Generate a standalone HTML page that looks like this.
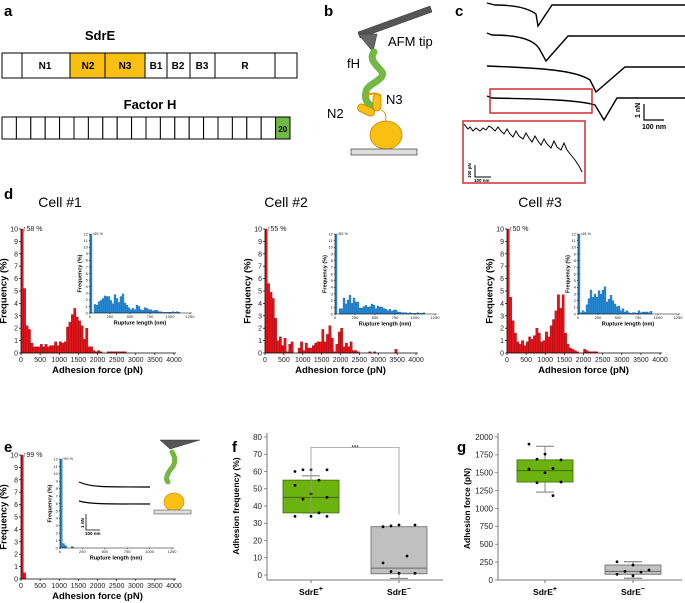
<!DOCTYPE html>
<html><head><meta charset="utf-8"><style>
html,body{margin:0;padding:0;background:#fff;}
svg{display:block;font-family:"Liberation Sans",Arial,sans-serif;}
</style></head><body>
<svg id="fig" width="685" height="603" viewBox="0 0 685 603" xmlns="http://www.w3.org/2000/svg">
<!-- panel a -->
<g>
<text x="4" y="16" font-size="15" font-weight="bold">a</text>
<text x="100" y="40" font-size="13" font-weight="bold" text-anchor="middle">SdrE</text>
<g stroke="#000" stroke-width="1" font-size="10" font-weight="bold">
<rect x="2" y="53" width="295" height="25" fill="#fff"/>
<rect x="70" y="53" width="35" height="25" fill="#f9bf13"/>
<rect x="105" y="53" width="40" height="25" fill="#f9bf13"/>
<line x1="22" y1="53" x2="22" y2="78"/><line x1="167" y1="53" x2="167" y2="78"/><line x1="190" y1="53" x2="190" y2="78"/><line x1="215" y1="53" x2="215" y2="78"/><line x1="275" y1="53" x2="275" y2="78"/>
<g stroke="none" text-anchor="middle">
<text x="45" y="69">N1</text><text x="88" y="69">N2</text><text x="125" y="69">N3</text><text x="156" y="69">B1</text><text x="178" y="69">B2</text><text x="202" y="69">B3</text><text x="245" y="69">R</text>
</g></g>
<text x="150" y="109" font-size="13" font-weight="bold" text-anchor="middle">Factor H</text>
<g id="fh"></g>
</g>
<!-- panel b -->
<g>
<text x="324" y="16" font-size="15" font-weight="bold">b</text>
<polygon points="358,32 430,6 432,12 360,38" fill="#555" stroke="#333" stroke-width="0.5"/>
<polygon points="358,34 377,34 373,52" fill="#666" stroke="#333" stroke-width="0.5"/>
<text x="388" y="46" font-size="13">AFM tip</text>
<text x="347" y="68" font-size="13">fH</text>
<path d="M374,52 C368,60 378,66 382,72 C386,80 366,84 366,92 C364,100 368,104 372,106" fill="none" stroke="#72b843" stroke-width="7" stroke-linecap="round"/>
<rect x="357" y="106" width="18" height="8" rx="4" transform="rotate(25 366 110)" fill="#f9bf13" stroke="#c48a00" stroke-width="0.8"/>
<rect x="373" y="94" width="8" height="17" rx="4" fill="#f9bf13" stroke="#c48a00" stroke-width="0.8"/>
<path d="M365,97 C370,92 378,93 381,96" fill="none" stroke="#d99a00" stroke-width="2"/>
<path d="M381,110 C388,113 385,118 386,122" fill="none" stroke="#d99a00" stroke-width="1"/>
<text x="386" y="104" font-size="13">N3</text>
<text x="327" y="118" font-size="13">N2</text>
<ellipse cx="386" cy="135" rx="16" ry="14" fill="#f9bf13" stroke="#c48a00" stroke-width="0.8"/>
<rect x="351" y="149" width="66" height="6" fill="#ddd" stroke="#555" stroke-width="0.8"/>
</g>
<!-- panel c -->
<g fill="none" stroke="#000" stroke-width="1.4">
<text x="455" y="16" font-size="15" font-weight="bold" stroke="none" fill="#000">c</text>
<path d="M487,3 L495,5 C515,5 528,8 536,14 L538,26 L552,5 L685,5"/>
<path d="M487,33 L492,35 C520,35 535,40 540,50 L546,61 L568,36 L685,36"/>
<path d="M487,66 C540,68 575,70 590,80 L596,92 L625,67 L685,67"/>
<path d="M487,96 L492,98 C540,99 580,100 595,105 L604,120 L617,98 L685,98"/>
<rect x="490" y="89" width="102" height="24" stroke="#c8202a"/>
<rect x="463" y="121" width="122" height="62" stroke="#c8202a"/>
<path d="M464,124 L468,129 L470,127 L473,131 L476,128 L480,131 L483,128 L486,130 L489,126 L492,128 L495,131 L498,127 L501,131 L504,134 L507,129 L510,134 L513,137 L516,131 L519,136 L523,139 L526,133 L529,138 L532,142 L535,136 L538,141 L541,145 L544,139 L547,144 L551,148 L554,141 L557,147 L561,150 L564,143 L567,150 L571,155 L575,160 L579,166 L582,172" stroke-width="1"/>
<path d="M644,104 L644,120 L664,120" stroke-width="1.2"/>
<text x="640" y="118" font-size="7" font-weight="bold" stroke="none" fill="#000" transform="rotate(-90 640 118)">1 nN</text>
<text x="642" y="129" font-size="7" font-weight="bold" stroke="none" fill="#000">100 nm</text>
<path d="M475,165 L475,177 L491,177" stroke-width="1"/>
<text x="471" y="178" font-size="4.5" font-weight="bold" stroke="none" fill="#000" transform="rotate(-90 471 178)">100 pN</text>
<text x="474" y="182" font-size="4.5" font-weight="bold" stroke="none" fill="#000">100 nm</text>
</g>
<text x="4" y="199" font-size="15" font-weight="bold">d</text>
<text x="60" y="207" font-size="14" text-anchor="middle">Cell #1</text>
<text x="286" y="207" font-size="14" text-anchor="middle">Cell #2</text>
<text x="540" y="207" font-size="14" text-anchor="middle">Cell #3</text>
<g id="hists"></g>
<!-- panel e -->
<text x="4" y="452" font-size="15" font-weight="bold">e</text>
<g fill="none" stroke="#000">
<path d="M79,482 C90,487 100,487 150,487" stroke-width="1.2"/>
<path d="M79,501 C90,504 100,504 150,504" stroke-width="1.2"/>
<path d="M86,514 L86,530 L100,530" stroke-width="0.8"/>
<text x="84" y="528" font-size="4.5" font-weight="bold" stroke="none" fill="#000" transform="rotate(-90 84 528)">1 nN</text>
<text x="85" y="535" font-size="4.5" font-weight="bold" stroke="none" fill="#000">100 nm</text>
<polygon points="160,440 200,440 170,449" fill="#555" stroke="#333" stroke-width="0.5"/>
<path d="M172,452 C176,458 176,464 170,470 C166,476 166,480 168,482" stroke="#72b843" stroke-width="5" stroke-linecap="round"/>
<ellipse cx="174" cy="502" rx="10" ry="9" fill="#f9bf13" stroke="#c48a00" stroke-width="0.6"/>
<rect x="154" y="510" width="37" height="4" fill="#ddd" stroke="#555" stroke-width="0.6"/>
</g>
<g id="boxes"></g>
<text x="232" y="452" font-size="15" font-weight="bold">f</text>
<text x="457" y="452" font-size="15" font-weight="bold">g</text>
</svg>
<script>
// ---- histogram data (red: adhesion force, 62.5 pN bins; blue: rupture length, 25 nm bins)
const forceBins = 62.5;
const lengthBins = 25;
const cell1Force = [10,5.2,2.2,1.9,0.8,0.5,0.5,0.5,0.7,0.5,0.7,0.5,0.6,0.6,0.9,0.6,0.9,0.8,0.9,2.1,2.5,3.1,3.6,2.9,2.6,2.2,1.1,2.0,0.5,0.5,0.2,0.1,0.2,0.1,0,0,0.1,0.1,0.1,0.1,0.1,0.1,0.1,0.1];
const cell2Force = [10,5.6,4.9,4.4,2.8,1.0,1.3,0.6,1.2,0.1,0.7,0.9,0,0,0.4,0.9,0.2,0.8,0.4,0.4,0.6,0.8,0.9,0.9,1.9,0.9,1.5,2.2,1.2,0.1,0.7,1.7,2.0,0.5,0.8,0.5,0.9,0.2,0.2,0.1,0,0,0,0,0.1,0,0.1,0,0,0,0,0,0,0,0,0.3];
const cell3Force = [10,4.5,2.6,1.6,0.9,0.7,1.0,0.6,0.9,1.3,1.1,1.4,2.0,1.6,0.9,1.0,1.7,1.3,2.2,2.7,3.4,4.7,3.6,4.7,1.6,0.7,0.4,0.3,0.2,0.1,0,0,0.3,0.2,0.1,0.1,0.1,0.1];
const cell1Length = [12,0,1.3,1.2,1.7,1.9,2.2,2.6,2.5,2.5,1.9,1.4,2.8,2.2,1.6,2.5,2.9,1.5,1.2,0.8,0.5,0.7,0.5,1.2,1.0,0.5,0.4,0.8,0.7,0.5,0.5,0.3,0.4,0.4,0.2,0.2,0.1,0.1,0.1,0.1,0.1,0.2,0.1,0.2,0.1];
const cell2Length = [12,0,0.8,0.8,2.4,1.5,2.1,2.8,1.6,2.4,1.8,1.8,0.9,0.9,1.1,1.3,1.0,1.1,1.5,1.3,0.8,1.2,1.0,1.0,0.8,0.7,0.5,0.7,0.4,0.6,0.6,0.3,0.3,0.2,0.2,0.2,0.1,0.2,0.1,0.1,0.1,0.2,0.1,0.1,0.2];
const cell3Length = [12,0.2,0.5,0.3,1.4,2.3,3.6,2.5,3.0,2.5,3.5,3.0,3.6,4.1,1.8,2.2,2.8,2.0,1.5,1.1,1.2,0.5,0.8,0.3,0.5,0.2,0.1,0.2,0.2,0.1,0.5,0.2,0.3,0.3,0.3,0.2,0.4];
const ctrlForce = [10,0.5];
const ctrlLength = [12,0.6,0.3,0,0,0.2];
const forceLabels = ["58 %","55 %","50 %","99 %"];
const lengthLabels = ["55 %","55 %","48 %","99 %"];
const forceTicks = [0,500,1000,1500,2000,2500,3000,3500,4000];
const freqTicks = [0,1,2,3,4,5,6,7,8,9,10];
const lenTicks = [0,250,500,750,1000,1250];
const lenFreqTicks = [0,1,2,3,4,5,6,7,8,9,10,11,12];
// ---- box plot data
const groups = ["SdrE+","SdrE−"];
const freqBoxes = [{q1:36,med:45,q3:55,lo:36,hi:57.5},{q1:0.7,med:4,q3:28,lo:-2,hi:25}];
const freqPoints = [[60,61,61,61,55,52,47,45,44,36,34,34,34],[28,29,29,28.5,11,7,1,1,2]];
const forceBoxes = [{q1:1370,med:1530,q3:1680,lo:1230,hi:1870},{q1:80,med:120,q3:210,lo:25,hi:255}];
const forcePoints = [[1900,1760,1680,1690,1560,1550,1500,1370,1360,1180],[255,210,140,120,110,80,60]];
const freqAxisTicks = [0,10,20,30,40,50,60,70,80];
const forceAxisTicks = [0,250,500,750,1000,1250,1500,1750,2000];

const NS="http://www.w3.org/2000/svg";
function el(parent,tag,attrs,text){const e=document.createElementNS(NS,tag);for(const k in attrs)e.setAttribute(k,attrs[k]);if(text!==undefined)e.textContent=text;parent.appendChild(e);return e;}

// factor H domains
const fh=document.getElementById('fh');
for(let i=0;i<20;i++){const w=288/20;
 const r=el(fh,'rect',{x:2+i*w,y:117,width:w,height:22,fill:i===19?'#72b843':'#fff',stroke:'#000','stroke-width':1});
 
 }
const t20=el(fh,'text',{x:2+19.5*288/20,y:132,'font-size':8,'font-weight':'bold','text-anchor':'middle'},'20');



function histogram(parent,data,binW,cfg){
 const g=el(parent,'g',{});
 
 
 const sx=v=>cfg.x0+(v-0)/cfg.xmax*(cfg.x1-cfg.x0);
 const sy=v=>cfg.y0-Math.min(v,cfg.ymax)/cfg.ymax*(cfg.y0-cfg.y1);
 data.forEach((v,i)=>{ if(v<=0)return;
  const b=el(g,'rect',{x:sx(i*binW),y:sy(v),width:Math.max(sx(binW)-sx(0),0.5),height:cfg.y0-sy(v),fill:cfg.fill,stroke:cfg.stroke,'stroke-width':0.3});
  
  });
 el(g,'line',{x1:cfg.x0,y1:cfg.y0,x2:cfg.x1+2,y2:cfg.y0,stroke:'#000','stroke-width':cfg.lw});
 el(g,'line',{x1:cfg.x0,y1:cfg.y0,x2:cfg.x0,y2:cfg.y1,stroke:'#000','stroke-width':cfg.lw});
 cfg.xt.forEach(t=>{el(g,'line',{x1:sx(t),y1:cfg.y0,x2:sx(t),y2:cfg.y0+cfg.tl,stroke:'#000','stroke-width':cfg.lw});
  const l=el(g,'text',{x:sx(t),y:cfg.y0+cfg.tl+cfg.fs,'font-size':cfg.fs,'text-anchor':'middle',fill:'#222'},String(t));
  
  });
 cfg.yt.forEach(t=>{el(g,'line',{x1:cfg.x0,y1:sy(t),x2:cfg.x0-cfg.tl,y2:sy(t),stroke:'#000','stroke-width':cfg.lw});
  const l=el(g,'text',{x:cfg.x0-cfg.tl-1,y:sy(t)+cfg.fs*0.35,'font-size':cfg.fs,'text-anchor':'end',fill:'#222'},String(t));
  
  });
 const pl=el(g,'text',{x:cfg.x0+2,y:cfg.y1+cfg.fs*0.3,'font-size':cfg.fs,fill:'#222'},'\u2191'+cfg.pct);
 
 
 const xl=el(g,'text',{x:(cfg.x0+cfg.x1)/2,y:cfg.y0+cfg.tl+cfg.fs*2.6,'font-size':cfg.afs,'font-weight':'bold','text-anchor':'middle'},cfg.xlab);
 
 
 const yx=cfg.x0-cfg.tl-cfg.fs*1.8, yy=(cfg.y0+cfg.y1)/2;
 const yl=el(g,'text',{x:yx,y:yy,'font-size':cfg.afs,'font-weight':'bold','text-anchor':'middle',transform:`rotate(-90 ${yx} ${yy})`},'Frequency (%)');
 
 
}
const H=document.getElementById('hists');
const red={fill:'#e3141b',stroke:'#7a0000',xmax:4000,ymax:10,xt:forceTicks,yt:freqTicks,tl:2,fs:7,afs:9.5,lw:0.7,xlab:'Adhesion force (pN)'};
const blue={fill:'#2b8fd8',stroke:'#0b4f8a',xmax:1250,ymax:12,xt:lenTicks,yt:lenFreqTicks,tl:1.2,fs:4,afs:5.5,lw:0.5,xlab:'Rupture length (nm)'};
const panels=[
 [cell1Force,cell1Length,21,174,229,353,90,190,234,313],
 [cell2Force,cell2Length,265,416,229,353,335,435,234,314],
 [cell3Force,cell3Length,507,660,229,353,578,678,234,314],
 [ctrlForce,ctrlLength,21,174,455,579,60,172,459,548]];
panels.forEach((p,i)=>{
 histogram(H,p[0],forceBins,Object.assign({},red,{name:'force-histogram-'+(i+1),x0:p[2],x1:p[3],y1:p[4],y0:p[5],pct:forceLabels[i]}));
 histogram(H,p[1],lengthBins,Object.assign({},blue,{name:'length-histogram-'+(i+1),x0:p[6],x1:p[7],y1:p[8],y0:p[9],pct:lengthLabels[i]}));
});

function boxplot(parent,boxes,points,ticks,cfg){
 const g=el(parent,'g',{});
 
 
 const sy=v=>cfg.y0-(v-ticks[0])/(ticks[ticks.length-1]-ticks[0])*(cfg.y0-cfg.y1);
 el(g,'line',{x1:cfg.x0,y1:cfg.ax,x2:cfg.x1,y2:cfg.ax,stroke:'#777','stroke-width':1});
 el(g,'line',{x1:cfg.x0,y1:cfg.ax,x2:cfg.x0,y2:cfg.y1-4,stroke:'#777','stroke-width':1});
 ticks.forEach(t=>{el(g,'line',{x1:cfg.x0,y1:sy(t),x2:cfg.x0-3,y2:sy(t),stroke:'#777','stroke-width':0.8});
  const l=el(g,'text',{x:cfg.x0-5,y:sy(t)+2.8,'font-size':8,'text-anchor':'end',fill:'#222'},String(t));
  
  });
 const fills=[['#6cb30f','#3d6a05'],['#c0c0c0','#666']];
 boxes.forEach((b,i)=>{const cx=cfg.cx[i],hw=28;
  const wg=el(g,'g',{});
  
  
  el(wg,'line',{x1:cx,y1:sy(b.hi),x2:cx,y2:sy(b.lo),stroke:'#888','stroke-width':1});
  el(wg,'line',{x1:cx-9,y1:sy(b.hi),x2:cx+9,y2:sy(b.hi),stroke:'#888','stroke-width':1.2});
  el(wg,'line',{x1:cx-9,y1:sy(b.lo),x2:cx+9,y2:sy(b.lo),stroke:'#888','stroke-width':1.2});
  el(wg,'rect',{x:cx-hw,y:sy(b.q3),width:2*hw,height:sy(b.q1)-sy(b.q3),fill:fills[i][0],stroke:fills[i][1],'stroke-width':0.8});
  el(wg,'line',{x1:cx-hw,y1:sy(b.med),x2:cx+hw,y2:sy(b.med),stroke:fills[i][1],'stroke-width':1});
  el(g,'line',{x1:cx,y1:cfg.ax,x2:cx,y2:cfg.ax+3,stroke:'#777'});
  const lab=el(g,'text',{x:cx,y:cfg.ax+15,'font-size':8.5,'font-weight':'bold','text-anchor':'middle'});
  
  
  el(lab,'tspan',{},'SdrE');el(lab,'tspan',{dy:-4,'font-size':7},i?'−':'+');
  points[i].forEach((v,j)=>{const off=((j*7)%5-2)*8;
   const d=el(g,'circle',{cx:cx+off,cy:sy(v),r:1.4,fill:'#000'});
   
   });
 });
 const yx=cfg.x0-28,yy=(cfg.y0+cfg.y1)/2;
 const yl=el(g,'text',{x:yx,y:yy,'font-size':8.5,'font-weight':'bold','text-anchor':'middle',transform:`rotate(-90 ${yx} ${yy})`},cfg.ylab);
 
 
 if(cfg.sig){el(g,'path',{d:`M${cfg.cx[0]},${sy(35)} L${cfg.cx[0]},${sy(74)} L${cfg.cx[1]},${sy(74)} L${cfg.cx[1]},${sy(35)}`,fill:'none',stroke:'#999','stroke-width':0.8});
  const s=el(g,'text',{x:(cfg.cx[0]+cfg.cx[1])/2,y:sy(74)+2,'font-size':6,'text-anchor':'middle'},'***');
  
  }
}
const B=document.getElementById('boxes');
boxplot(B,freqBoxes,freqPoints,freqAxisTicks,{name:'frequency-boxplot',x0:267,x1:443,y0:575,y1:437,ax:580,cx:[311,399],ylab:'Adhesion frequency (%)',sig:true});
boxplot(B,forceBoxes,forcePoints,forceAxisTicks,{name:'force-boxplot',x0:498,x1:682,y0:580,y1:437,ax:580,cx:[545,633],ylab:'Adhesion force (pN)',sig:false});
</script>
</body></html>
